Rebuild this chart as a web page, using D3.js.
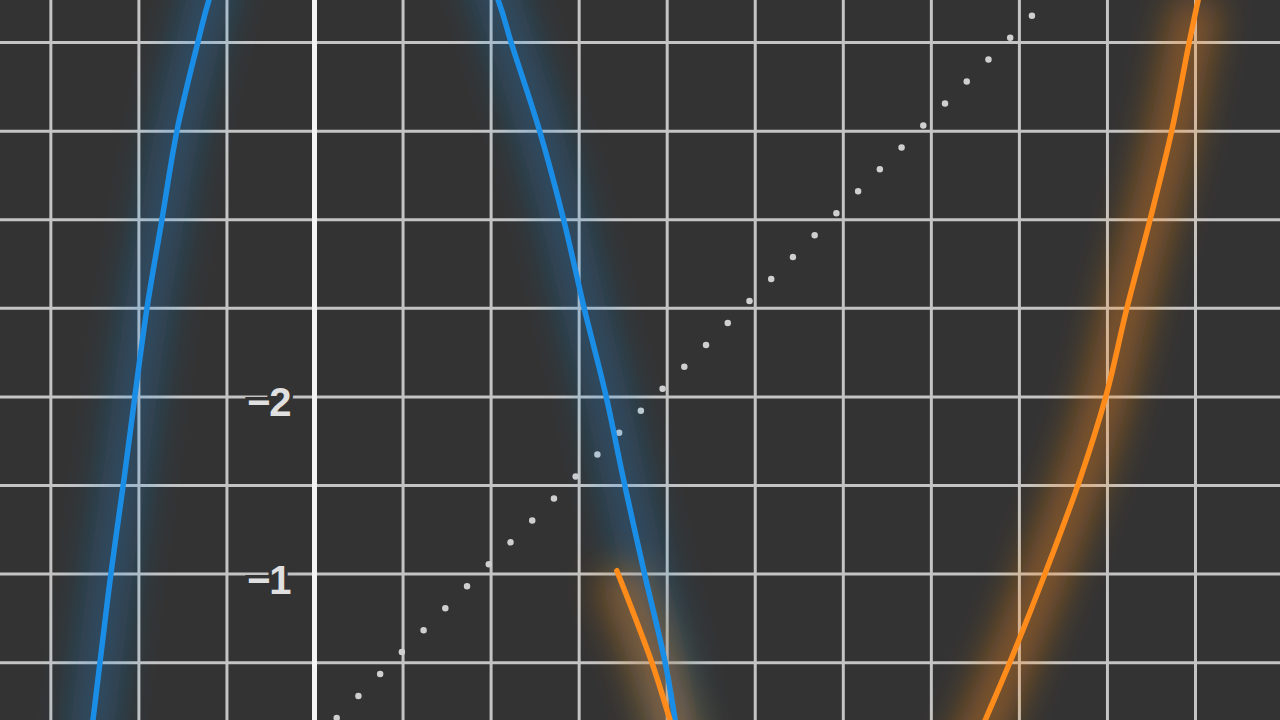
<!DOCTYPE html>
<html>
<head>
<meta charset="utf-8">
<script src="https://cdn.jsdelivr.net/npm/d3@7"></script>
<style>
  body { margin: 0; background: #333333; }
  svg { display: block; }
</style>
</head>
<body>
<script>
// grid every half unit, y grows downward on this graph
const gridX = [-1.5, -1, -0.5, 0.5, 1, 1.5, 2, 2.5, 3, 3.5, 4, 4.5, 5];
const gridY = [-0.5, -1, -1.5, -2, -2.5, -3, -3.5, -4];
const labelValues = [-2, -1];
const labelText = ["\u22122", "\u22121"];

// blue curve (apex is off screen)
const blueX = [-1.279, -1.258, -1.218, -1.156, -1.082, -1.020, -0.951, -0.866, -0.781, -0.662, -0.599,
               -0.28, 0.16, 0.64,
               1.042, 1.116, 1.278, 1.414, 1.531, 1.656, 1.755, 1.874, 1.991, 2.048, 2.075];
const blueY = [0, -0.173, -0.50, -1.00, -1.53, -2.00, -2.50, -3.00, -3.50, -4.00, -4.24,
               -5.17, -5.59, -5.17,
               -4.24, -4.00, -3.50, -3.00, -2.50, -2.00, -1.53, -1.00, -0.50, -0.173, 0];

// orange curve, starts at (1.717, -1.016), vertex below the screen
const orangeX = [1.717, 1.915, 2.019, 2.074, 2.45, 2.9, 3.35, 3.735,
                 3.809, 3.950, 4.149, 4.345, 4.496, 4.613, 4.746, 4.869, 4.968, 5.018];
const orangeY = [-1.016, -0.50, -0.173, 0, 0.45, 0.66, 0.45, 0,
                 -0.173, -0.502, -1.001, -1.528, -2.008, -2.497, -3.002, -3.504, -4.002, -4.238];

// dotted straight line, end points
const dotX = [0.126, 4.074];
const dotY = [-0.185, -4.149];

const w = 1280;
const h = 720;

const x = d3.scaleLinear().domain([0, 5]).range([314.5, 1195]);
const y = d3.scaleLinear().domain([0, -4]).range([750.7, 42.1]);

const svg = d3.select("body")
  .append("svg")
  .attr("width", w)
  .attr("height", h);

svg.append("rect")
  .attr("width", w)
  .attr("height", h)
  .attr("fill", "#333333");

const defs = svg.append("defs");
defs.append("filter")
  .attr("id", "glow")
  .attr("x", "-50%").attr("y", "-50%")
  .attr("width", "200%").attr("height", "200%")
  .append("feGaussianBlur")
  .attr("stdDeviation", 18);

// grid
const gx = svg.append("g")
  .call(d3.axisTop(x).tickValues(gridX).tickSize(-h).tickFormat(""));
const gy = svg.append("g")
  .call(d3.axisLeft(y).tickValues(gridY).tickSize(-w).tickFormat(""));
[gx, gy].forEach(g => {
  g.select(".domain").remove();
  g.selectAll("line").attr("stroke", "#c4c4c4").attr("stroke-width", 3);
});

// y axis
svg.append("line")
  .attr("x1", x(0)).attr("x2", x(0))
  .attr("y1", 0).attr("y2", h)
  .attr("stroke", "#f4f4f4")
  .attr("stroke-width", 5);

// labels
svg.selectAll("text.lab")
  .data(labelValues)
  .enter()
  .append("text")
  .attr("class", "lab")
  .text((d, i) => labelText[i])
  .attr("x", x(0) - 24)
  .attr("y", d => y(d) + 20)
  .attr("text-anchor", "end")
  .attr("font-family", "Liberation Sans, Arial, sans-serif")
  .attr("font-weight", "bold")
  .attr("font-size", 40)
  .attr("letter-spacing", -1)
  .attr("fill", "#e0e0e0")
  .attr("stroke", "#333333")
  .attr("stroke-width", 7)
  .attr("paint-order", "stroke");

// dotted line
svg.append("line")
  .attr("x1", x(dotX[0])).attr("y1", y(dotY[0]))
  .attr("x2", x(dotX[1])).attr("y2", y(dotY[1]))
  .attr("stroke", "#cfcfcf")
  .attr("stroke-width", 6.5)
  .attr("stroke-linecap", "round")
  .attr("stroke-dasharray", "0 30.88");

const line = d3.line()
  .x(d => x(d[0]))
  .y(d => y(d[1]))
  .curve(d3.curveCatmullRom.alpha(0.5));

const series = [
  { xs: blueX, ys: blueY, color: "#1a8ee6", glow: 0.3 },
  { xs: orangeX, ys: orangeY, color: "#ff8c1a", glow: 0.42 }
];

// soft halo first, crisp lines on top
series.forEach(s => {
  const pts = s.xs.map((v, i) => [v, s.ys[i]]);
  svg.append("path")
    .datum(pts)
    .attr("d", line)
    .attr("fill", "none")
    .attr("stroke", s.color)
    .attr("stroke-width", 44)
    .attr("stroke-opacity", s.glow)
    .attr("filter", "url(#glow)");
});

series.forEach(s => {
  const pts = s.xs.map((v, i) => [v, s.ys[i]]);
  svg.append("path")
    .datum(pts)
    .attr("d", line)
    .attr("fill", "none")
    .attr("stroke", s.color)
    .attr("stroke-width", 5.5)
    .attr("stroke-linecap", "round");
});
</script>
</body>
</html>
